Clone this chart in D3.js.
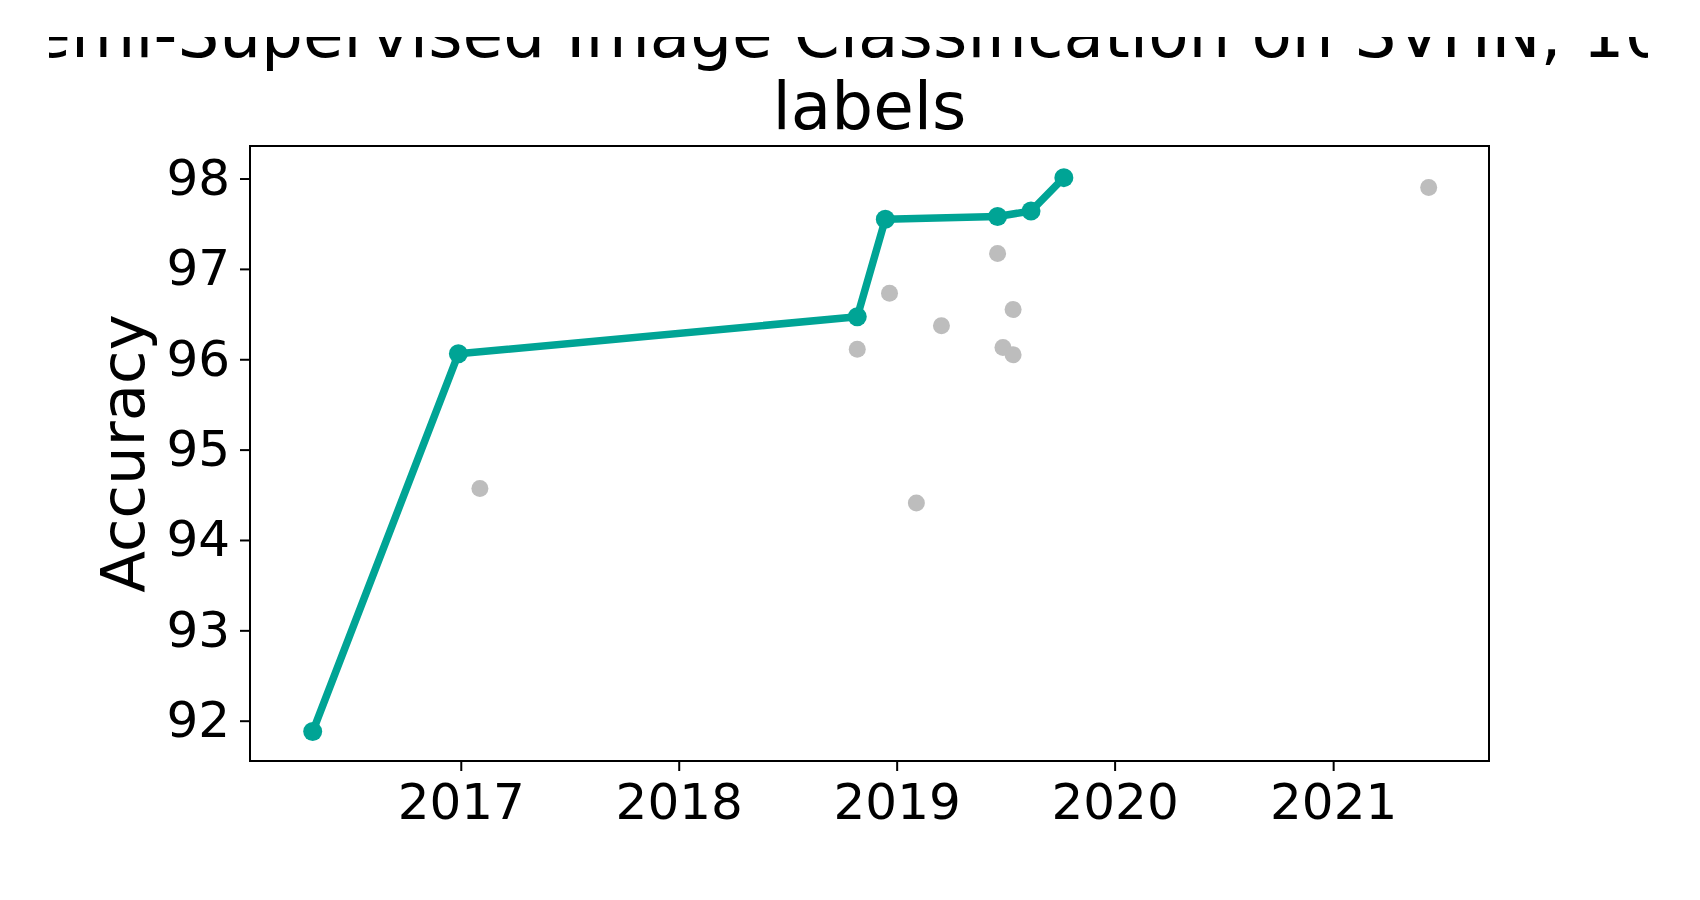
<!DOCTYPE html>
<html>
<head>
<meta charset="utf-8">
<script src="https://cdn.jsdelivr.net/npm/d3@7"></script>
<style>
  html, body { margin: 0; padding: 0; background: #ffffff; }
  svg { display: block; }
  text { font-family: "DejaVu Sans", sans-serif; fill: #000; }
</style>
</head>
<body>
<svg id="chart" width="1700" height="900"></svg>
<script>
// ---- data ----
const titleLines = ["Semi-Supervised Image Classification on SVHN, 1000", "labels"];
const yLabel = "Accuracy";

// state-of-the-art line (date, accuracy)
const sotaDates = ["2016-04-28", "2016-12-28", "2018-10-27", "2018-12-13", "2019-06-19", "2019-08-14", "2019-10-08"];
const sotaValues = [91.88, 96.06, 96.47, 97.55, 97.58, 97.64, 98.01];

// other results (date, accuracy)
const otherDates = ["2017-02-02", "2018-10-27", "2018-12-20", "2019-02-03", "2019-03-17", "2019-06-19", "2019-07-15", "2019-06-28", "2019-07-15", "2021-06-10"];
const otherValues = [94.57, 96.11, 96.73, 94.41, 96.37, 97.17, 96.55, 96.13, 96.05, 97.90];

const xTickYears = [2017, 2018, 2019, 2020, 2021];
const yTickValues = [92, 93, 94, 95, 96, 97, 98];

// axis limits (as in the original plot)
const xLimits = ["2016-01-14", "2021-09-19"];
const yLimits = [91.554, 98.36];

// ---- layout ----
const W = 1700, H = 900;
const plot = { left: 250, right: 1489, top: 146, bottom: 761 };
const green = "#00a495";
const grey = "#bdbdbd";

const parse = d3.timeParse("%Y-%m-%d");
const sota = sotaDates.map((d, i) => ({ date: parse(d), value: sotaValues[i] }));
const others = otherDates.map((d, i) => ({ date: parse(d), value: otherValues[i] }));

const x = d3.scaleTime()
  .domain(xLimits.map(parse))
  .range([plot.left, plot.right]);
const y = d3.scaleLinear()
  .domain(yLimits)
  .range([plot.bottom, plot.top]);

const svg = d3.select("#chart");
svg.append("rect").attr("width", W).attr("height", H).attr("fill", "#fff");

// clip for the title (overflowing the original canvas)
svg.append("defs").append("clipPath").attr("id", "canvasClip")
  .append("rect").attr("x", 49).attr("y", 37).attr("width", 1599).attr("height", 828);

// title
const title = svg.append("text")
  .attr("clip-path", "url(#canvasClip)")
  .attr("text-anchor", "middle")
  .style("font-size", "66px");
title.selectAll("tspan").data(titleLines).join("tspan")
  .attr("x", (plot.left + plot.right) / 2)
  .attr("y", (d, i) => 57 + i * 72)
  .text(d => d);

// axes
const xAxis = d3.axisBottom(x)
  .tickValues(xTickYears.map(yv => new Date(yv, 0, 1)))
  .tickFormat(d3.timeFormat("%Y"))
  .tickSize(10).tickPadding(12);
const yAxis = d3.axisLeft(y)
  .tickValues(yTickValues)
  .tickFormat(d3.format("d"))
  .tickSize(10).tickPadding(10);

const gx = svg.append("g").attr("transform", `translate(0,${plot.bottom})`).call(xAxis);
const gy = svg.append("g").attr("transform", `translate(${plot.left},0)`).call(yAxis);
[gx, gy].forEach(g => {
  g.select(".domain").remove();
  g.selectAll(".tick line").attr("stroke", "#000").attr("stroke-width", 2);
  g.selectAll(".tick text").style("font-size", "50px").attr("fill", "#000");
});

// frame
svg.append("rect")
  .attr("x", plot.left).attr("y", plot.top)
  .attr("width", plot.right - plot.left).attr("height", plot.bottom - plot.top)
  .attr("fill", "none").attr("stroke", "#000").attr("stroke-width", 2);

// y label
svg.append("text")
  .attr("transform", `translate(122,${(plot.top + plot.bottom) / 2}) rotate(-90)`)
  .attr("text-anchor", "middle")
  .attr("dominant-baseline", "central")
  .style("font-size", "61px")
  .text(yLabel);

// other points
svg.append("g").selectAll("circle").data(others).join("circle")
  .attr("cx", d => x(d.date)).attr("cy", d => y(d.value))
  .attr("r", 8.5).attr("fill", grey);

// sota line
svg.append("path").datum(sota)
  .attr("fill", "none").attr("stroke", green).attr("stroke-width", 7.5)
  .attr("stroke-linejoin", "round")
  .attr("d", d3.line().x(d => x(d.date)).y(d => y(d.value)));
svg.append("g").selectAll("circle").data(sota).join("circle")
  .attr("cx", d => x(d.date)).attr("cy", d => y(d.value))
  .attr("r", 9.5).attr("fill", green);
</script>
</body>
</html>
